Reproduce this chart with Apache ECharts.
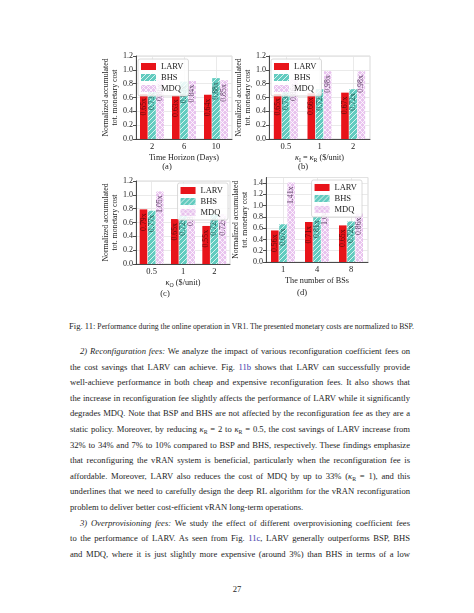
<!DOCTYPE html>
<html>
<head>
<meta charset="utf-8">
<title>Fig. 11</title>
<script src="https://cdn.jsdelivr.net/npm/echarts@6/dist/echarts.min.js"></script>
<style>
  body { margin: 0; background: #fff; width: 474px; height: 613px; overflow: hidden; position: relative;
         font-family: "Liberation Serif", "DejaVu Serif", serif; color: #1e1e1e; }
  #fig { position: absolute; left: 0; top: 0; width: 474px; height: 302px; }
  #caption { position: absolute; left: 69px; top: 319px; width: 340px; font-size: 7.7px; line-height: 14px;
             text-align: justify; text-align-last: justify; white-space: nowrap; }
  #caption b { font-weight: normal; font-size: 8.6px; }
  #text { position: absolute; left: 70px; top: 344px; width: 340px; font-size: 8.6px; line-height: 15.6px; }
  #text div { text-align: justify; text-align-last: justify; }
  #text div.end { text-align-last: left; }
  #text div.ind { text-indent: 10px; }
  #text a { color: #3636a8; text-decoration: none; }
  sub { font-size: 5.8px; vertical-align: -1.5px; line-height: 0; }
  #page { position: absolute; left: 0; width: 474px; top: 584px; text-align: center; font-size: 8.6px; }
</style>
</head>
<body>
<div id="fig"></div>
<div id="caption"><b>Fig. 11:</b> Performance during the online operation in VR1. The presented monetary costs are normalized to BSP.</div>
<div id="text">
  <div class="ind"><i>2) Reconfiguration fees:</i> We analyze the impact of various reconfiguration coefficient fees on</div>
  <div>the cost savings that LARV can achieve. Fig. <a>11b</a> shows that LARV can successfully provide</div>
  <div>well-achieve performance in both cheap and expensive reconfiguration fees. It also shows that</div>
  <div>the increase in reconfiguration fee slightly affects the performance of LARV while it significantly</div>
  <div>degrades MDQ. Note that BSP and BHS are not affected by the reconfiguration fee as they are a</div>
  <div>static policy. Moreover, by reducing <i>κ</i><sub>R</sub> = 2 to <i>κ</i><sub>R</sub> = 0.5, the cost savings of LARV increase from</div>
  <div>32% to 34% and 7% to 10% compared to BSP and BHS, respectively. These findings emphasize</div>
  <div>that reconfiguring the vRAN system is beneficial, particularly when the reconfiguration fee is</div>
  <div>affordable. Moreover, LARV also reduces the cost of MDQ by up to 33% (<i>κ</i><sub>R</sub> = 1), and this</div>
  <div>underlines that we need to carefully design the deep RL algorithm for the vRAN reconfiguration</div>
  <div class="end">problem to deliver better cost-efficient vRAN long-term operations.</div>
  <div class="ind"><i>3) Overprovisioning fees:</i> We study the effect of different overprovisioning coefficient fees</div>
  <div>to the performance of LARV. As seen from Fig. <a>11c</a>, LARV generally outperforms BSP, BHS</div>
  <div>and MDQ, where it is just slightly more expensive (around 3%) than BHS in terms of a low</div>
</div>
<div id="page">27</div>
<script>
var serif = '"Liberation Serif", "DejaVu Serif", serif';
var methods = ['LARV', 'BHS', 'MDQ'];

// (a) time horizon
var horizonDays = ['2', '6', '10'];
var horizonLARV = [0.65, 0.63, 0.64];
var horizonBHS = [0.73, 0.83, 0.88];
var horizonMDQ = [0.86, 0.84, 0.85];

// (b) reconfiguration fee
var reconfFee = ['0.5', '1', '2'];
var reconfLARV = [0.65, 0.66, 0.67];
var reconfBHS = [0.73, 0.72, 0.72];
var reconfMDQ = [0.86, 0.98, 0.98];

// (c) overprovisioning fee
var overFee = ['0.5', '1', '2'];
var overLARV = [0.79, 0.65, 0.55];
var overBHS = [0.77, 0.72, 0.72];
var overMDQ = [1.05, 0.86, 0.72];

// (d) number of BSs
var numBS = ['1', '4', '8'];
var bsLARV = [0.56, 0.71, 0.65];
var bsBHS = [0.67, 0.81, 0.72];
var bsMDQ = [1.41, 1.04, 0.86];

// hatched fills, like matplotlib '//' and 'xx'
function hatch(bg, cross) {
  var c = document.createElement('canvas');
  c.width = 5; c.height = 5;
  var g = c.getContext('2d');
  g.fillStyle = bg;
  g.fillRect(0, 0, 5, 5);
  g.strokeStyle = 'rgba(255,255,255,0.85)';
  g.lineWidth = 0.9;
  g.beginPath();
  g.moveTo(-1, 6); g.lineTo(6, -1);
  g.moveTo(-1, 1); g.lineTo(1, -1);
  g.moveTo(4, 6); g.lineTo(6, 4);
  if (cross) {
    g.moveTo(-1, -1); g.lineTo(6, 6);
    g.moveTo(-1, 4); g.lineTo(1, 6);
    g.moveTo(4, -1); g.lineTo(6, 1);
  }
  g.stroke();
  return { image: c, repeat: 'repeat' };
}
var fills = ['#e8141a', hatch('#62cbbf', false), hatch('#e8c3ee', true)];
var labelInk = ['#5c0a0a', '#1d5550', '#5e4566'];

var rich = {
  k: { fontFamily: serif, fontStyle: 'italic', fontSize: 8.4, color: '#222', lineHeight: 12 },
  s: { fontFamily: serif, fontSize: 5.8, color: '#222', verticalAlign: 'bottom', lineHeight: 12 }
};

var panels = [
  { cats: horizonDays, vals: [horizonLARV, horizonBHS, horizonMDQ], xName: 'Time Horizon (Days)', yMax: 1.2,
    grid: { left: 136, top: 56, width: 96, height: 83 }, legend: { left: 138, top: 59 }, tag: '(a)', tagAt: [167, 167] },
  { cats: reconfFee, vals: [reconfLARV, reconfBHS, reconfMDQ], xName: '{k|κ}{s|I} = {k|κ}{s|R} ($/unit)', yMax: 1.2,
    grid: { left: 269, top: 56, width: 101, height: 83 }, legend: { left: 271, top: 59 }, tag: '(b)', tagAt: [303, 167] },
  { cats: overFee, vals: [overLARV, overBHS, overMDQ], xName: '{k|κ}{s|O} ($/unit)', yMax: 1.2,
    grid: { left: 136, top: 181, width: 94, height: 83 }, legend: { right: 246, top: 183 }, tag: '(c)', tagAt: [165, 294] },
  { cats: numBS, vals: [bsLARV, bsBHS, bsMDQ], xName: 'The number of BSs', yMax: 1.5,
    grid: { left: 266, top: 177.5, width: 102, height: 84.5 }, legend: { right: 112, top: 180 }, tag: '(d)', tagAt: [302, 293] }
];

var option = { animation: false, grid: [], xAxis: [], yAxis: [], legend: [], series: [], graphic: [] };

panels.forEach(function (p, i) {
  option.grid.push(Object.assign({ show: true, borderColor: '#cfcfcf', borderWidth: 0.8 }, p.grid));
  option.xAxis.push({
    type: 'category', gridIndex: i, data: p.cats,
    axisLine: { lineStyle: { color: '#222', width: 0.8 } },
    axisTick: { alignWithLabel: true, length: 3, lineStyle: { color: '#222', width: 0.8 } },
    axisLabel: { fontFamily: serif, fontSize: 8.5, color: '#222', margin: 3 },
    splitLine: { show: true, alignWithLabel: true, lineStyle: { color: '#e4e4e4', width: 0.8 } },
    name: p.xName, nameLocation: 'middle', nameGap: 8,
    nameTextStyle: { fontFamily: serif, fontSize: 8.2, color: '#222', lineHeight: 12, rich: rich }
  });
  option.yAxis.push({
    type: 'value', gridIndex: i, min: 0, max: p.yMax, interval: 0.2,
    axisLine: { show: true, lineStyle: { color: '#222', width: 0.8 } },
    axisTick: { show: true, length: 3, lineStyle: { color: '#222', width: 0.8 } },
    axisLabel: { fontFamily: serif, fontSize: 8, color: '#222', margin: 3, showMaxLabel: p.yMax <= 1.2,
      formatter: function (v) { return v.toFixed(1); } },
    splitLine: { lineStyle: { color: '#e4e4e4', width: 0.8 } },
    name: 'Normalized accumulated\ntot. monetary cost', nameLocation: 'middle', nameGap: 16,
    nameTextStyle: { fontFamily: serif, fontSize: 7.8, lineHeight: 8.6, color: '#222' }
  });
  option.legend.push(Object.assign({
    data: methods, orient: 'vertical', icon: 'rect', itemWidth: 15, itemHeight: 7, itemGap: 2,
    padding: [3, 5, 3, 3], selectedMode: false,
    backgroundColor: 'rgba(255,255,255,0.85)', borderColor: '#d0d0d0', borderWidth: 0.8, borderRadius: 2,
    textStyle: { fontFamily: serif, fontSize: 8.5, color: '#222', lineHeight: 9 }
  }, p.legend));
  methods.forEach(function (m, j) {
    option.series.push({
      type: 'bar', name: m, xAxisIndex: i, yAxisIndex: i, data: p.vals[j],
      barWidth: 7.6, barGap: '8%',
      itemStyle: { color: fills[j] },
      label: {
        show: true, position: 'insideTop', distance: 4, rotate: 90, align: 'right', verticalAlign: 'middle',
        fontFamily: serif, fontSize: 7.8, color: labelInk[j],
        formatter: function (d) { return d.value.toFixed(2) + 'x'; }
      },
      emphasis: { disabled: true }
    });
  });
  option.graphic.push({
    type: 'text', x: p.tagAt[0], y: p.tagAt[1],
    style: { text: p.tag, fontFamily: serif, fontSize: 8.5, fill: '#222', align: 'center', verticalAlign: 'middle' }
  });
});

var chart = echarts.init(document.getElementById('fig'));
chart.setOption(option);
</script>
</body>
</html>
